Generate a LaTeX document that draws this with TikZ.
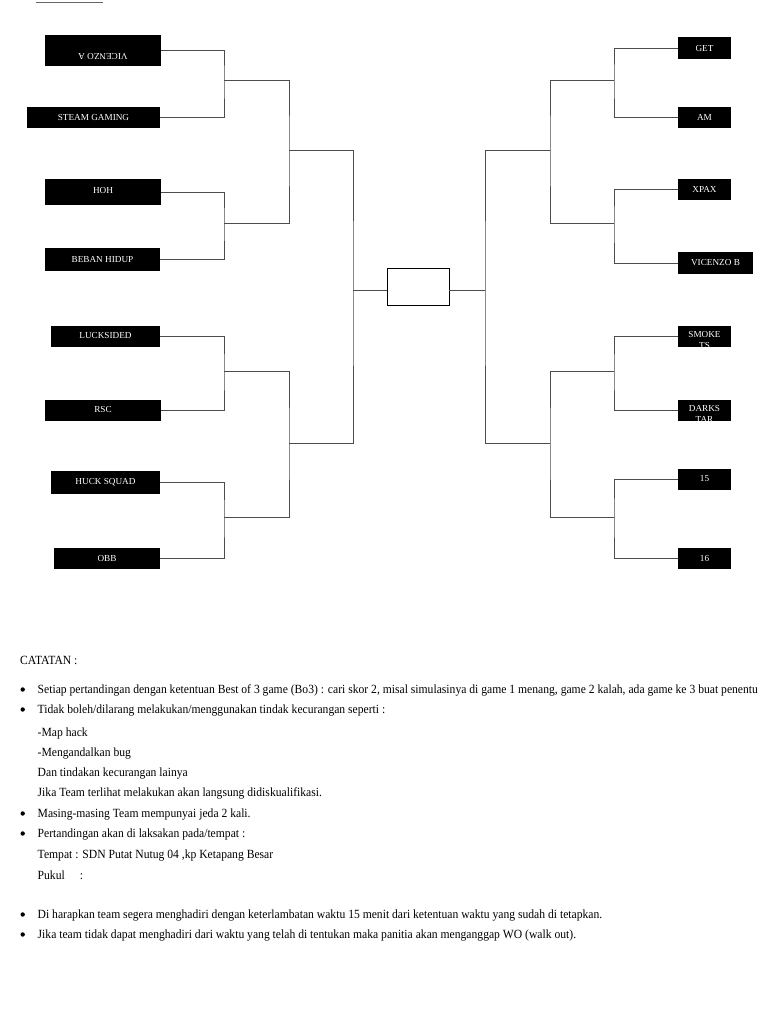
\documentclass[tikz,border=0pt]{standalone}
\usepackage{fontspec}
\setmainfont{Liberation Serif}
\newfontfamily\notefont[FakeStretch=0.93]{Liberation Serif}
\newfontfamily\labfont{Liberation Serif}
\begin{document}
\begin{tikzpicture}[x=1bp,y=-1bp,
  wire/.style={draw=black!70,line width=0.9bp},
  team/.style={fill=black,text=white,inner sep=0pt,font=\labfont\fontsize{9.2bp}{10bp}\selectfont},
  note/.style={anchor=base west,inner sep=0pt,font=\notefont\fontsize{12.5bp}{14bp}\selectfont},
  bul/.style={circle,fill=black,inner sep=0pt,minimum size=4.4bp}]
\useasboundingbox[fill=white] (0,0) rectangle (768,1024);

% top stray rule
\coordinate (tl1) at (36,2);
\coordinate (tl2) at (103,2);
\draw[draw=black!60,line width=0.8bp] (tl1) -- (tl2);

% left teams
\node[team,minimum width=116bp,minimum height=31bp] (va) at (103,50.5) {};
\node[team,rotate=180,inner sep=0pt] (valab) at (103,56) {VICENZO A};
\node[team,minimum width=133bp,minimum height=21bp] (sg) at (93.5,117.5) {STEAM GAMING};
\node[team,minimum width=116bp,minimum height=26bp] (hoh) at (103,192) {\raisebox{3bp}{HOH}};
\node[team,minimum width=115bp,minimum height=23bp] (bh) at (102.5,259.5) {BEBAN HIDUP};
\node[team,minimum width=109bp,minimum height=21bp] (ls) at (105.5,336.5) {\raisebox{2bp}{LUCKSIDED}};
\node[team,minimum width=116bp,minimum height=21bp] (rsc) at (103,410.5) {\raisebox{2bp}{RSC}};
\node[team,minimum width=109bp,minimum height=23bp] (hs) at (105.5,482.5) {\raisebox{3bp}{HUCK SQUAD}};
\node[team,minimum width=106bp,minimum height=21bp] (obb) at (107,558.5) {OBB};

% right teams
\node[team,minimum width=53bp,minimum height=22bp] (get) at (704.5,48) {GET};
\node[team,minimum width=53bp,minimum height=21bp] (am) at (704.5,117.5) {AM};
\node[team,minimum width=53bp,minimum height=21bp] (xpax) at (704.5,189.5) {XPAX};
\node[team,minimum width=75bp,minimum height=22bp] (vb) at (715.5,263) {VICENZO B};
\node[team,minimum width=53bp,minimum height=21bp,
  path picture={\node[text=white,align=center,inner sep=0pt,font=\labfont\fontsize{9.2bp}{11bp}\selectfont] (smlab) at ([yshift=-3bp]path picture bounding box.center) {SMOKE\\TS};}] (sm) at (704.5,336.5) {};
\node[team,minimum width=53bp,minimum height=21bp,
  path picture={\node[text=white,align=center,inner sep=0pt,font=\labfont\fontsize{9.2bp}{11bp}\selectfont] (dslab) at ([yshift=-3bp]path picture bounding box.center) {DARKS\\TAR};}] (ds) at (704.5,410.5) {};
\node[team,minimum width=53bp,minimum height=21bp] (t15) at (704.5,479.5) {\raisebox{2bp}{15}};
\node[team,minimum width=53bp,minimum height=21bp] (t16) at (704.5,558.5) {16};

% final box
\node[draw=black,fill=white,line width=0.9bp,minimum width=62bp,minimum height=37bp,inner sep=0pt] (final) at (418,286.5) {};

% left junctions
\coordinate (la1) at (224,80);
\coordinate (la2) at (224,223);
\coordinate (la3) at (224,371);
\coordinate (la4) at (224,517);
\coordinate (lb1) at (289,150);
\coordinate (lb2) at (289,443);
\coordinate (lc) at (353,290);
\draw[wire] (va.east) -| (la1) |- (sg.east);
\draw[wire] (hoh.east) -| (la2) |- (bh.east);
\draw[wire] (ls.east) -| (la3) |- (rsc.east);
\draw[wire] (hs.east) -| (la4) |- (obb.east);
\draw[wire] (la1) -| (lb1) |- (la2);
\draw[wire] (la3) -| (lb2) |- (la4);
\draw[wire] (lb1) -| (lc) |- (lb2);
\draw[wire] (lc) -- (lc -| final.west);

% right junctions
\coordinate (ra1) at (614,80);
\coordinate (ra2) at (614,223);
\coordinate (ra3) at (614,371);
\coordinate (ra4) at (614,517);
\coordinate (rb1) at (550,150);
\coordinate (rb2) at (550,443);
\coordinate (rc) at (485,290);
\draw[wire] (get.west) -| (ra1) |- (am.west);
\draw[wire] (xpax.west) -| (ra2) |- (vb.west);
\draw[wire] (sm.west) -| (ra3) |- (ds.west);
\draw[wire] (t15.west) -| (ra4) |- (t16.west);
\draw[wire] (ra1) -| (rb1) |- (ra2);
\draw[wire] (ra3) -| (rb2) |- (ra4);
\draw[wire] (rb1) -| (rc) |- (rb2);
\draw[wire] (rc) -- (rc -| final.east);

% notes
\node[note] (cat) at (20,664) {CATATAN :};
\node[bul] (b1) at (22.7,689.5) {};
\node[note] (n1) at (37.5,693) {Setiap pertandingan dengan ketentuan Best of 3 game (Bo3) : cari skor 2, misal simulasinya di game 1 menang, game 2 kalah, ada game ke 3 buat penentu};
\node[bul] (b2) at (22.7,709.5) {};
\node[note] (n2) at (37.5,713) {Tidak boleh/dilarang melakukan/menggunakan tindak kecurangan seperti :};
\node[note] (n3) at (37.5,736) {-Map hack};
\node[note] (n4) at (37.5,756) {-Mengandalkan bug};
\node[note] (n5) at (37.5,776) {Dan tindakan kecurangan lainya};
\node[note] (n6) at (37.5,796) {Jika Team terlihat melakukan akan langsung didiskualifikasi.};
\node[bul] (b3) at (22.7,813.5) {};
\node[note] (n7) at (37.5,817) {Masing-masing Team mempunyai jeda 2 kali.};
\node[bul] (b4) at (22.7,833.5) {};
\node[note] (n8) at (37.5,837) {Pertandingan akan di laksakan pada/tempat :};
\node[note] (n9) at (37.5,858) {Tempat : SDN Putat Nutug 04 ,kp Ketapang Besar};
\node[note] (n10) at (37.5,879) {Pukul\hspace{15bp}:};
\node[bul] (b5) at (22.7,914.5) {};
\node[note] (n11) at (37.5,918) {Di harapkan team segera menghadiri dengan keterlambatan waktu 15 menit dari ketentuan waktu yang sudah di tetapkan.};
\node[bul] (b6) at (22.7,934.5) {};
\node[note] (n12) at (37.5,938) {Jika team tidak dapat menghadiri dari waktu yang telah di tentukan maka panitia akan menganggap WO (walk out).};
\end{tikzpicture}
\end{document}
